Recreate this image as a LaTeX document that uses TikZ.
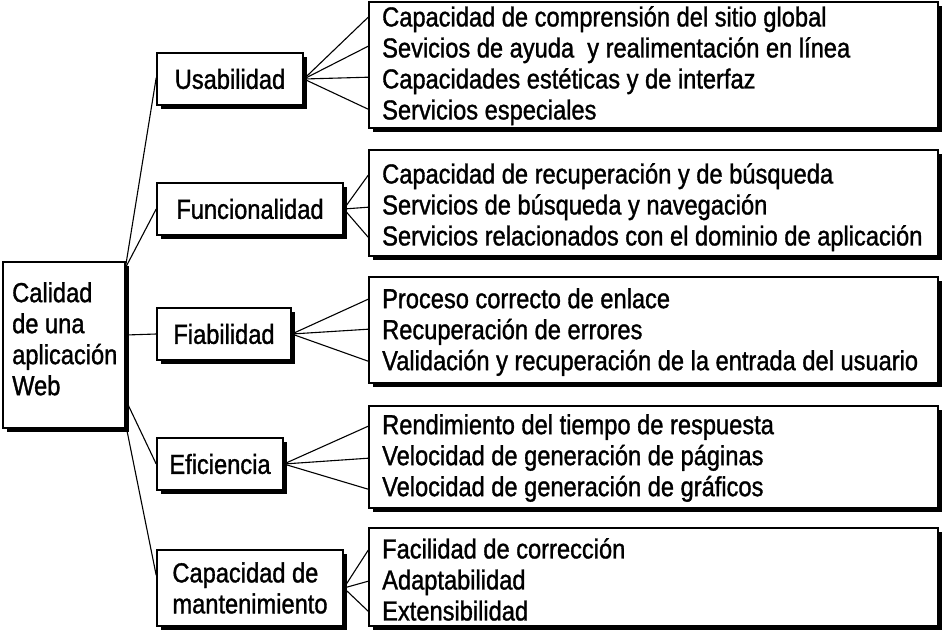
\documentclass[tikz,border=0pt]{standalone}
\usepackage{fontspec}
\setmainfont[FakeStretch=0.86,FakeBold=1.2]{Liberation Sans}
\usetikzlibrary{shadows,calc}
\tikzset{
 box/.style={draw=black,line width=1.6pt,fill=white,inner sep=0pt,
   drop shadow={shadow xshift=4pt,shadow yshift=-4pt,fill=black,opacity=1}},
 txt/.style={font=\fontsize{27.5}{31}\selectfont,align=left,inner sep=0pt,anchor=north west},
 con/.style={line width=1.1pt}
}
\begin{document}
\begin{tikzpicture}[x=1pt,y=-1pt]
\useasboundingbox (0,0) rectangle (944,632);
\newcommand\mybox[5]{\node[box,minimum width={#4-#2},minimum height={#5-#3}] (#1) at ({(#2+#4)/2},{(#3+#5)/2}) {};}
\mybox{root}{3}{262}{125}{428}
\mybox{c1}{157}{53}{303}{105}
\mybox{c2}{157}{183}{343}{235}
\mybox{c3}{157}{308}{291}{360}
\mybox{c4}{157}{438}{283}{490}
\mybox{c5}{157}{550}{343}{626}
\mybox{l1}{369}{2}{938}{128}
\mybox{l2}{369}{150}{938}{256}
\mybox{l3}{369}{277}{938}{383}
\mybox{l4}{369}{406}{938}{508}
\mybox{l5}{369}{528}{938}{626}
\node[txt] (troot) at (12,282) {Calidad\\de una\\aplicación\\Web};
\node[txt,anchor=center] (t1) at (c1) {Usabilidad};
\node[txt,anchor=center] (t2) at (c2) {Funcionalidad};
\node[txt,anchor=center] (t3) at (c3) {Fiabilidad};
\node[txt,anchor=center] (t4) at (c4) {Eficiencia};
\node[txt,anchor=center] (t5) at (c5) {Capacidad de\\mantenimiento};
\node[txt] (tl1) at (382,6) {Capacidad de comprensión del sitio global\\Sevicios de ayuda \ y realimentación en línea\\Capacidades estéticas y de interfaz\\Servicios especiales};
\node[txt] (tl2) at (382,163) {Capacidad de recuperación y de búsqueda\\Servicios de búsqueda y navegación\\Servicios relacionados con el dominio de aplicación};
\node[txt] (tl3) at (382,288) {Proceso correcto de enlace\\Recuperación de errores\\Validación y recuperación de la entrada del usuario};
\node[txt] (tl4) at (382,414) {Rendimiento del tiempo de respuesta\\Velocidad de generación de páginas\\Velocidad de generación de gráficos};
\node[txt] (tl5) at (382,538) {Facilidad de corrección\\Adaptabilidad\\Extensibilidad};
\draw[con] ($(root.north east)+(0,4)$) -- ($(c1.south west)+(0,-28)$);
\draw[con] ($(root.north east)+(0,6)$) -- (c2.west);
\draw[con] ($(root.east)+(0,-10)$) -- (c3.west);
\draw[con] ($(root.east)+(0,55)$) -- (c4.west);
\draw[con] ($(root.south east)+(0,-4)$) -- ($(c5.north west)+(0,26)$);
\foreach \y in {18,47,78,110} \draw[con] (c1.east) -- ($(l1.north west)+(0,\y-2)$);
\foreach \y in {176,208,238} \draw[con] (c2.east) -- ($(l2.north west)+(0,\y-150)$);
\foreach \y in {300,330,362} \draw[con] (c3.east) -- ($(l3.north west)+(0,\y-277)$);
\foreach \y in {427,459,490} \draw[con] (c4.east) -- ($(l4.north west)+(0,\y-406)$);
\foreach \y in {551,582,612} \draw[con] (c5.east) -- ($(l5.north west)+(0,\y-528)$);
\end{tikzpicture}
\end{document}
